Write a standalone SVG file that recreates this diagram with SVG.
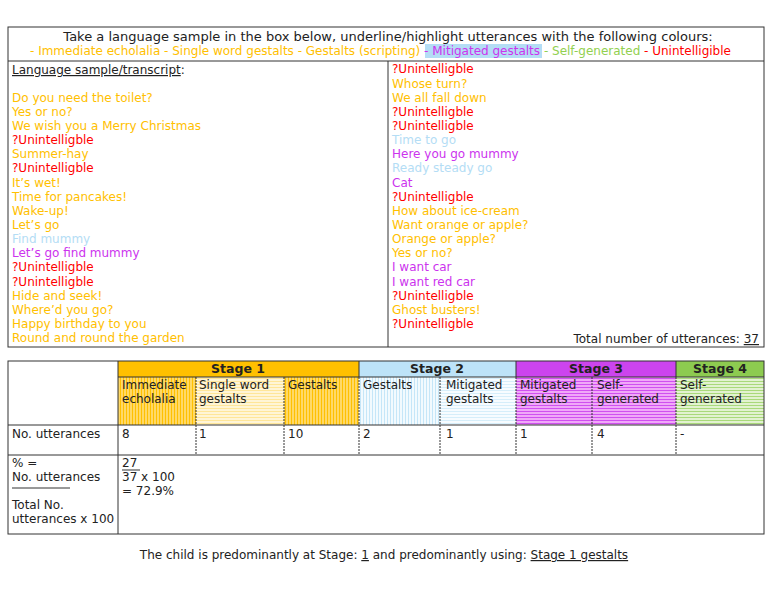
<svg xmlns="http://www.w3.org/2000/svg" width="768" height="594" viewBox="0 0 768 594">
<style>
text{font-family:"DejaVu Sans",Verdana,sans-serif;font-size:12px;fill:#222}
.o{fill:#FFC000}.r{fill:#FF0000}.b{fill:#B4DDF5}.m{fill:#CC33EE}.g{fill:#92D050}
.h{font-weight:bold;font-size:12.5px;text-anchor:middle}
.ln{stroke:#333;stroke-width:1;fill:none}
</style>
<defs>
<pattern id="po" width="3" height="3" patternUnits="userSpaceOnUse"><rect width="3" height="3" fill="#FFD966"/><rect width="1" height="3" fill="#FFC000"/></pattern>
<pattern id="po2" width="3" height="3" patternUnits="userSpaceOnUse"><rect width="3" height="3" fill="#FFF5D6"/><rect width="3" height="1" fill="#FFE699"/></pattern>
<pattern id="pb" width="3" height="3" patternUnits="userSpaceOnUse"><rect width="3" height="3" fill="#F2FAFE"/><rect width="1" height="3" fill="#C5E6F8"/></pattern>
<pattern id="pb2" width="3" height="3" patternUnits="userSpaceOnUse"><rect width="3" height="3" fill="#F7FCFF"/><rect width="3" height="1" fill="#D6EEFA"/></pattern>
<pattern id="pm" width="3" height="3" patternUnits="userSpaceOnUse"><rect width="3" height="3" fill="#F0A8F8"/><rect width="3" height="1" fill="#D050F0"/></pattern>
<pattern id="pg" width="3" height="3" patternUnits="userSpaceOnUse"><rect width="3" height="3" fill="#E2F2D0"/><rect width="3" height="1" fill="#A9D97A"/></pattern>
</defs>
<g id="sample-box">
<rect class="ln" x="8" y="27" width="756" height="320"/>
<line class="ln" x1="8" y1="61" x2="764" y2="61"/>
<line class="ln" x1="388" y1="61" x2="388" y2="347"/>
<text x="388" y="41" text-anchor="middle" style="font-size:13px">Take a language sample in the box below, underline/highlight utterances with the following colours:</text>
<rect x="425" y="44" width="117" height="14" fill="#B4DDF5"/>
<text x="30" y="55"><tspan class="o">-  Immediate echolalia - Single word gestalts - Gestalts (scripting) </tspan><tspan class="m">- Mitigated gestalts</tspan><tspan class="g"> - Self-generated </tspan><tspan class="r">- Unintelligible</tspan></text>
<text x="12" y="74"><tspan text-decoration="underline">Language sample/transcript</tspan>:</text>
<text x="12" y="102" class="o">Do you need the toilet?</text>
<text x="12" y="116" class="o">Yes or no?</text>
<text x="12" y="130" class="o">We wish you a Merry Christmas</text>
<text x="12" y="144" class="r">?Unintelligble</text>
<text x="12" y="158" class="o">Summer-hay</text>
<text x="12" y="172" class="r">?Unintelligble</text>
<text x="12" y="187" class="o">It’s wet!</text>
<text x="12" y="201" class="o">Time for pancakes!</text>
<text x="12" y="215" class="o">Wake-up!</text>
<text x="12" y="229" class="o">Let’s go</text>
<text x="12" y="243" class="b">Find mummy</text>
<text x="12" y="257" class="m">Let’s go find mummy</text>
<text x="12" y="271" class="r">?Unintelligble</text>
<text x="12" y="286" class="r">?Unintelligble</text>
<text x="12" y="300" class="o">Hide and seek!</text>
<text x="12" y="314" class="o">Where’d you go?</text>
<text x="12" y="328" class="o">Happy birthday to you</text>
<text x="12" y="342" class="o">Round and round the garden</text>
<text x="392" y="73" class="r">?Unintelligble</text>
<text x="392" y="88" class="o">Whose turn?</text>
<text x="392" y="102" class="o">We all fall down</text>
<text x="392" y="116" class="r">?Unintelligble</text>
<text x="392" y="130" class="r">?Unintelligble</text>
<text x="392" y="144" class="b">Time to go</text>
<text x="392" y="158" class="m">Here you go mummy</text>
<text x="392" y="172" class="b">Ready steady go</text>
<text x="392" y="187" class="m">Cat</text>
<text x="392" y="201" class="r">?Unintelligble</text>
<text x="392" y="215" class="o">How about ice-cream</text>
<text x="392" y="229" class="o">Want orange or apple?</text>
<text x="392" y="243" class="o">Orange or apple?</text>
<text x="392" y="257" class="o">Yes or no?</text>
<text x="392" y="271" class="m">I want car</text>
<text x="392" y="286" class="m">I want red car</text>
<text x="392" y="300" class="r">?Unintelligble</text>
<text x="392" y="314" class="o">Ghost busters!</text>
<text x="392" y="328" class="r">?Unintelligble</text>
<text x="759" y="343" text-anchor="end">Total number of utterances: <tspan text-decoration="underline">37</tspan></text>
</g>
<g id="stage-table">
<rect x="118" y="361" width="241" height="16" fill="#FFC000"/>
<rect x="359" y="361" width="157" height="16" fill="#BDE3F8"/>
<rect x="516" y="361" width="160" height="16" fill="#CC44EE"/>
<rect x="676" y="361" width="88" height="16" fill="#8DCB50"/>
<rect x="118" y="377" width="78" height="48" fill="url(#po)"/>
<rect x="196" y="377" width="88" height="48" fill="url(#po2)"/>
<rect x="284" y="377" width="75" height="48" fill="url(#po)"/>
<rect x="359" y="377" width="81" height="48" fill="url(#pb)"/>
<rect x="440" y="377" width="76" height="48" fill="url(#pb2)"/>
<rect x="516" y="377" width="76" height="48" fill="url(#pm)"/>
<rect x="592" y="377" width="84" height="48" fill="url(#pm)"/>
<rect x="676" y="377" width="88" height="48" fill="url(#pg)"/>
<rect class="ln" x="8" y="361" width="756" height="173"/>
<line class="ln" x1="118" y1="361" x2="118" y2="534"/>
<line class="ln" x1="118" y1="377" x2="764" y2="377"/>
<line class="ln" x1="8" y1="425" x2="764" y2="425"/>
<line class="ln" x1="8" y1="455" x2="764" y2="455"/>
<line class="ln" x1="359" y1="361" x2="359" y2="377"/>
<line class="ln" x1="516" y1="361" x2="516" y2="377"/>
<line class="ln" x1="676" y1="361" x2="676" y2="377"/>
<g class="ln" stroke-dasharray="2,1"><line x1="196" y1="377" x2="196" y2="455"/><line x1="284" y1="377" x2="284" y2="455"/><line x1="359" y1="377" x2="359" y2="455"/><line x1="440" y1="377" x2="440" y2="455"/><line x1="516" y1="377" x2="516" y2="455"/><line x1="592" y1="377" x2="592" y2="455"/><line x1="676" y1="377" x2="676" y2="455"/></g>
<text class="h" x="238" y="373">Stage 1</text>
<text class="h" x="437" y="373">Stage 2</text>
<text class="h" x="596" y="373">Stage 3</text>
<text class="h" x="720" y="373">Stage 4</text>
<text x="122" y="389">Immediate</text><text x="122" y="403">echolalia</text>
<text x="199" y="389">Single word</text><text x="199" y="403">gestalts</text>
<text x="288" y="389">Gestalts</text>
<text x="363" y="389">Gestalts</text>
<text x="446" y="389">Mitigated</text><text x="446" y="403">gestalts</text>
<text x="520" y="389">Mitigated</text><text x="520" y="403">gestalts</text>
<text x="597" y="389">Self-</text><text x="597" y="403">generated</text>
<text x="680" y="389">Self-</text><text x="680" y="403">generated</text>
<text x="12" y="438">No. utterances</text>
<text x="122" y="438">8</text><text x="199" y="438">1</text><text x="288" y="438">10</text><text x="363" y="438">2</text><text x="446" y="438">1</text><text x="520" y="438">1</text><text x="597" y="438">4</text><text x="680" y="438">-</text>
<text x="12" y="467">% =</text>
<text x="12" y="481">No. utterances</text>
<line class="ln" x1="12" y1="488" x2="70" y2="488"/>
<text x="12" y="509">Total No.</text>
<text x="12" y="523">utterances x 100</text>
<text x="122" y="467">27</text>
<line class="ln" x1="122" y1="470" x2="140" y2="470"/>
<text x="122" y="481">37 x 100</text>
<text x="122" y="495">= 72.9%</text>
</g>
<text x="384" y="559" text-anchor="middle">The child is predominantly at Stage: <tspan text-decoration="underline">1</tspan> and predominantly using: <tspan text-decoration="underline">Stage 1 gestalts</tspan></text>
</svg>
